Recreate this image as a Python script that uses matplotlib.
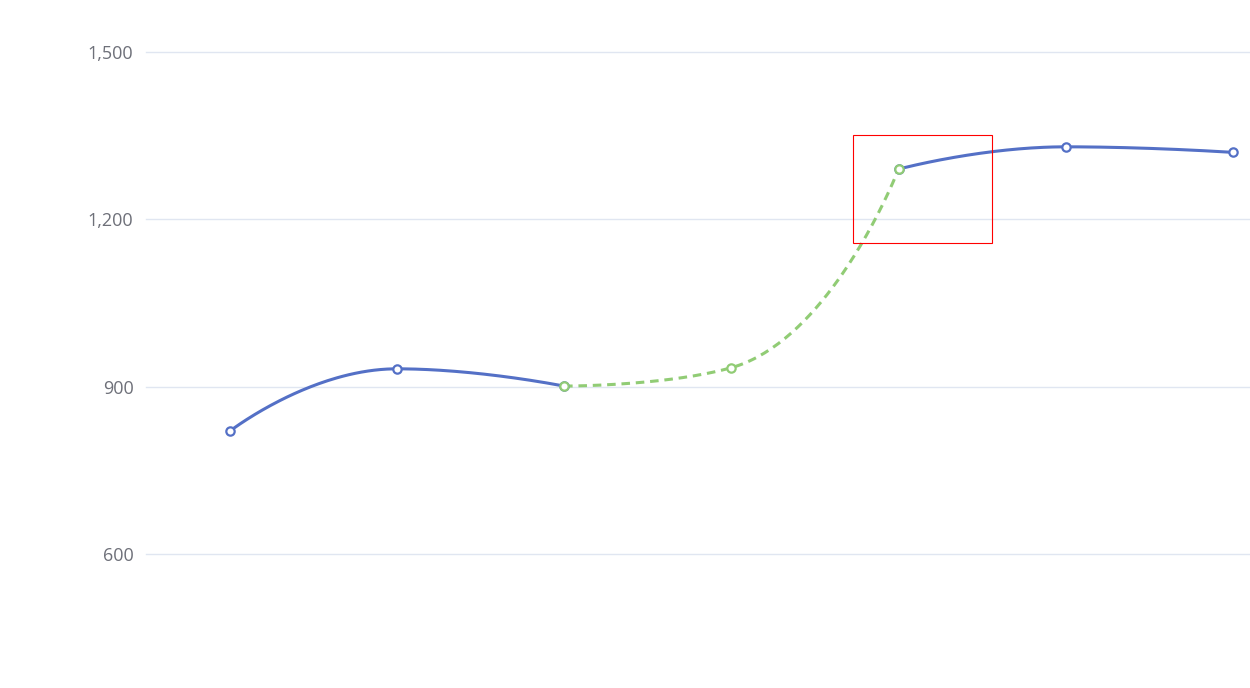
import numpy as np
import matplotlib
matplotlib.use("Agg")
import matplotlib.pyplot as plt
from matplotlib.patches import Rectangle

# ---- data ----
categories = ["Mon", "Tue", "Wed", "Thu", "Fri", "Sat", "Sun"]
values = [820, 932, 901, 934, 1290, 1330, 1320]
# sections (by category index, inclusive) drawn as separate smooth series
piece_bounds = [(0, 2), (4, 6), (2, 4)]
piece_colors = ["#5470c6", "#5470c6", "#91cc75"]
piece_dashed = [False, False, True]
y_ticks = [600, 900, 1200, 1500]
# highlight box (data coords)
box_x = (3.73, 4.56)
box_y = (1157, 1351)

W, H = 1250, 688
fig = plt.figure(figsize=(W / 100, H / 100), dpi=100)
left = 146 / W
right = 1316.6 / W
bottom = (H - 554) / H
top = (H - 52) / H
ax = fig.add_axes([left, bottom, right - left, top - bottom])
ax.set_xlim(-0.5, len(categories) - 0.5)
ax.set_ylim(600, 1500)
ax.set_yticks(y_ticks)
ax.set_yticklabels([f"{v:,}" for v in y_ticks])
ax.set_xticks([])
for s in ax.spines.values():
    s.set_visible(False)
ax.tick_params(axis="y", length=0, pad=9, labelsize=13, labelcolor="#6e7079")
for lab in ax.get_yticklabels():
    lab.set_family(["Open Sans", "DejaVu Sans"])
ax.grid(axis="y", color="#e0e6f1", linewidth=1)
for gl in ax.get_ygridlines():
    gl.set_clip_on(False)
ax.set_axisbelow(True)

inv = ax.transData.inverted()
smooth = 0.5


def smooth_path(P):
    """ECharts-style smoothed bezier through pixel points P; returns sampled pixel points."""
    n = len(P)
    cpn = [p.copy() for p in P]  # control point after point i
    cpp = [p.copy() for p in P]  # control point before point i
    for i in range(1, n - 1):
        p, pv, nx = P[i], P[i - 1], P[i + 1]
        v = (nx - pv)
        lp = np.hypot(*(p - pv))
        ln = np.hypot(*(nx - p))
        r = ln / (ln + lp)
        ncp = p + v * smooth * r
        ncp = np.minimum(ncp, np.maximum(nx, p))
        ncp = np.maximum(ncp, np.minimum(nx, p))
        vv = ncp - p
        pcp = p - vv * lp / ln
        pcp = np.minimum(pcp, np.maximum(pv, p))
        pcp = np.maximum(pcp, np.minimum(pv, p))
        vv = p - pcp
        ncp = p + vv * ln / lp
        cpn[i] = ncp
        cpp[i] = pcp
    t = np.linspace(0, 1, 80)[:, None]
    out = [P[0][None, :]]
    for i in range(n - 1):
        a, b, c, d = P[i], cpn[i], cpp[i + 1], P[i + 1]
        seg = ((1 - t) ** 3) * a + 3 * ((1 - t) ** 2) * t * b + 3 * (1 - t) * t ** 2 * c + t ** 3 * d
        out.append(seg[1:])
    return np.vstack(out)


xs = np.arange(len(values), dtype=float)
lw = 2.2
for (a, b), col, dashed in zip(piece_bounds, piece_colors, piece_dashed):
    P = ax.transData.transform(np.column_stack([xs[a:b + 1], values[a:b + 1]]))
    curve = inv.transform(smooth_path(P))
    ls = (0, (2.8, 1.9)) if dashed else "-"
    ax.plot(curve[:, 0], curve[:, 1], color=col, linewidth=lw, linestyle=ls,
            solid_capstyle="round", dash_capstyle="butt", zorder=3)
    ax.plot(xs[a:b + 1], values[a:b + 1], linestyle="none", marker="o", markersize=6,
            markerfacecolor="white", markeredgecolor=col, markeredgewidth=1.6,
            zorder=4, clip_on=False)

ax.add_patch(Rectangle((box_x[0], box_y[0]), box_x[1] - box_x[0], box_y[1] - box_y[0],
                       fill=False, edgecolor="#ff0000", linewidth=0.8, zorder=5))

fig.savefig("out.png", dpi=100)
